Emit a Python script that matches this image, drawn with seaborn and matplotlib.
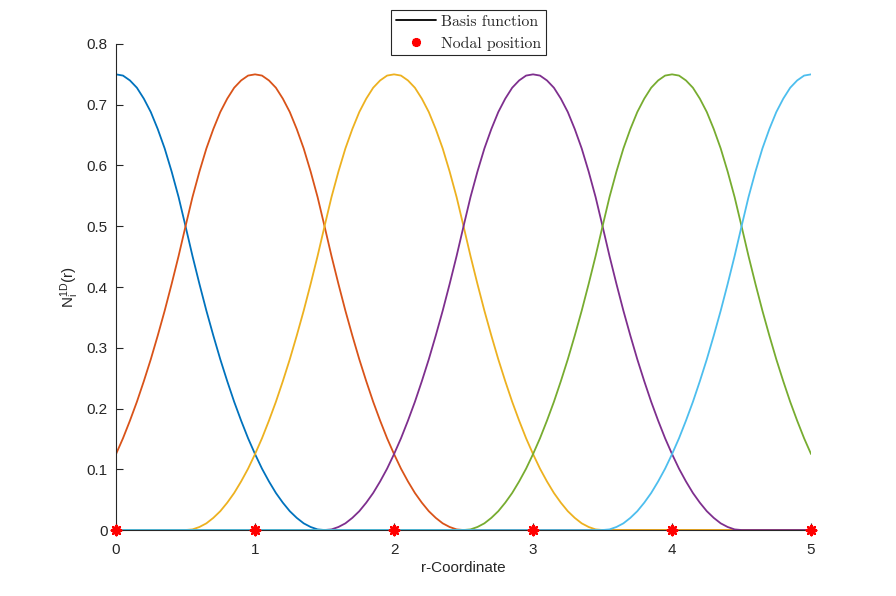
import numpy as np
import pandas as pd
import seaborn as sns
import matplotlib.pyplot as plt
from matplotlib.lines import Line2D

# node positions of the basis functions
nodes = [0, 1, 2, 3, 4, 5]
# one basis function: value vs distance from its node (0 .. 1.5, step 0.05)
offsets = [0.00, 0.05, 0.10, 0.15, 0.20, 0.25, 0.30, 0.35, 0.40, 0.45, 0.50,
           0.55, 0.60, 0.65, 0.70, 0.75, 0.80, 0.85, 0.90, 0.95, 1.00,
           1.05, 1.10, 1.15, 1.20, 1.25, 1.30, 1.35, 1.40, 1.45, 1.50]
shape = [0.750, 0.748, 0.740, 0.728, 0.710, 0.688, 0.660, 0.628, 0.590, 0.548, 0.500,
         0.451, 0.405, 0.361, 0.320, 0.281, 0.245, 0.211, 0.180, 0.151, 0.125,
         0.101, 0.080, 0.061, 0.045, 0.031, 0.020, 0.011, 0.005, 0.001, 0.000]
colors = ['#0072BD', '#D95319', '#EDB120', '#7E2F8E', '#77AC30', '#4DBEEE']

# build a long table: each curve is the shape mirrored around its node, zero elsewhere
rows = []
grid = [round(0.05 * k, 2) for k in range(101)]
half = dict(zip(offsets, shape))
for i, n in enumerate(nodes):
    for r in grid:
        d = round(abs(r - n), 2)
        rows.append({'r': r, 'N': half.get(d, 0.0), 'basis': f'N{i}'})
df = pd.DataFrame(rows)
node_df = pd.DataFrame({'r': nodes, 'N': [0.0] * len(nodes)})

sns.set_style('white')
plt.rcParams['font.family'] = ['Liberation Sans', 'DejaVu Sans']
plt.rcParams['mathtext.fontset'] = 'custom'
plt.rcParams['mathtext.rm'] = 'Liberation Sans'
plt.rcParams['mathtext.it'] = 'Liberation Sans'

fig = plt.figure(figsize=(8.96, 5.96), dpi=100)
ax = fig.add_axes([0.1295, 0.1107, 0.7757, 0.8155])

sns.lineplot(data=df, x='r', y='N', hue='basis', palette=colors, linewidth=1.3,
             legend=False, ax=ax, zorder=2)
sns.scatterplot(data=node_df, x='r', y='N', color='red', marker=(8, 2, 0), s=45,
                linewidth=1.8, edgecolor='red', ax=ax, zorder=3, clip_on=False)

ax.set_xlim(0, 5)
ax.set_ylim(0, 0.8)
ax.set_xticks(range(6))
ax.set_yticks(np.arange(0, 0.81, 0.1))
ax.set_yticklabels(['0', '0.1', '0.2', '0.3', '0.4', '0.5', '0.6', '0.7', '0.8'])
ax.tick_params(direction='in', length=5, width=0.8, colors='#262626', labelsize=11,
               left=True, bottom=True)
ax.tick_params(axis='x', pad=9)
ax.tick_params(axis='y', pad=6)
for s in ['top', 'right']:
    ax.spines[s].set_visible(False)
for s in ['left', 'bottom']:
    ax.spines[s].set_color('#262626')
    ax.spines[s].set_linewidth(0.8)
ax.set_xlabel('r-Coordinate', fontsize=11, color='#262626', labelpad=3)
ax.set_ylabel(r'N$_\mathrm{i}^\mathrm{1D}$(r)', fontsize=11, color='#262626', labelpad=4)

handles = [Line2D([], [], color='black', linewidth=1.3),
           Line2D([], [], color='red', marker=(8, 2, 0), linestyle='none',
                  markersize=6.5, markeredgewidth=1.8)]
leg = ax.legend(handles, ['Basis function', 'Nodal position'], loc='upper center',
                bbox_to_anchor=(0.507, 1.083), frameon=True, fancybox=False,
                edgecolor='#262626', framealpha=1, borderpad=0.3, handlelength=2.6,
                handletextpad=0.3, labelspacing=0.5, borderaxespad=0.4,
                prop={'family': 'cmr10', 'size': 11.3})
leg.get_frame().set_linewidth(0.8)

fig.savefig('out.png', dpi=100)
